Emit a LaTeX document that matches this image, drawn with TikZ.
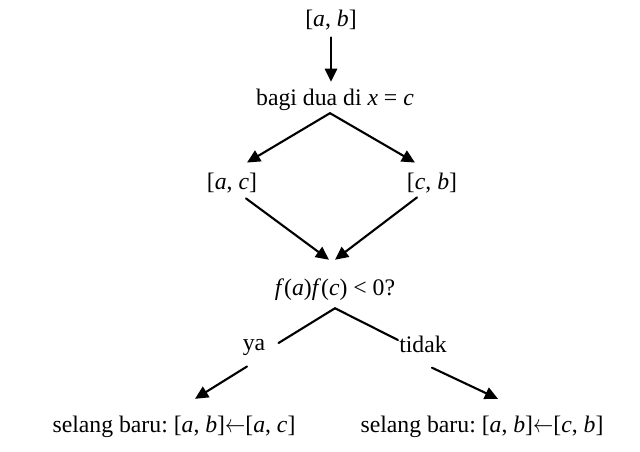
\documentclass[tikz,border=0pt]{standalone}
\usepackage{fontspec}
\setmainfont{Liberation Serif}
\usepackage{graphicx}
\usepackage{tikz}
\usetikzlibrary{positioning}
\usetikzlibrary{calc}
\usetikzlibrary{arrows.meta}

\newcommand{\panahkiri}{\scalebox{0.8}[1]{$\leftarrow$}}

\tikzset{
  teks/.style={font=\fontsize{13.5}{16}\selectfont,inner sep=4pt},
  garis/.style={line width=1.2pt},
  panah/.style={garis,-{Triangle[length=7.5pt,width=7pt]}}
}

\begin{document}
\frenchspacing
\begin{tikzpicture}[line cap=round,line join=round,x=0.02cm,y=-0.02cm]
\useasboundingbox (0,0) rectangle (640,452);
\node[teks] (ab) at (331,20) {[\textit{a}, \textit{b}]};
\node[teks] (bagi) at (335,100) {bagi dua di \textit{x} = \textit{c}};
\node[teks] (ac) at (232,183) {[\textit{a}, \textit{c}]};
\node[teks] (cb) at (432,183) {[\textit{c}, \textit{b}]};
\node[teks] (uji) at (335,290) {\textit{f}(\textit{a})\textit{f}(\textit{c}) < 0?};
\node[teks] (ya) at (254,347) {ya};
\node[teks] (tidak) at (423,344) {tidak};
\node[teks] (kiri) at (174,427) {selang baru: [\textit{a}, \textit{b}]\panahkiri[\textit{a}, \textit{c}]};
\node[teks] (kanan) at (482,427) {selang baru: [\textit{a}, \textit{b}]\panahkiri[\textit{c}, \textit{b}]};
\draw[panah] (ab.south) -- (ab.south |- bagi.north);
\draw[panah] ($(bagi.south)+(-5,-5)$) -- ($(ac.north)+(15,-3)$);
\draw[panah] ($(bagi.south)+(-5,-5)$) -- ($(cb.north)+(-17,-3)$);
\draw[panah] ($(ac.south)+(14,-2)$) -- ($(uji.north)+(-6,-12)$);
\draw[panah] ($(cb.south)+(-15,-3)$) -- ($(uji.north)+(0,-12)$);
\draw[garis] (uji.south) -- ($(ya.east)+(6,-4)$);
\draw[garis] (uji.south) -- ($(tidak.west)+(6,-4)$);
\draw[panah] ($(ya.south)+(-7,4)$) -- ($(kiri.north)+(21,-10)$);
\draw[panah] ($(tidak.south)+(9,8)$) -- ($(kanan.north)+(16,-10)$);
\end{tikzpicture}
\end{document}
